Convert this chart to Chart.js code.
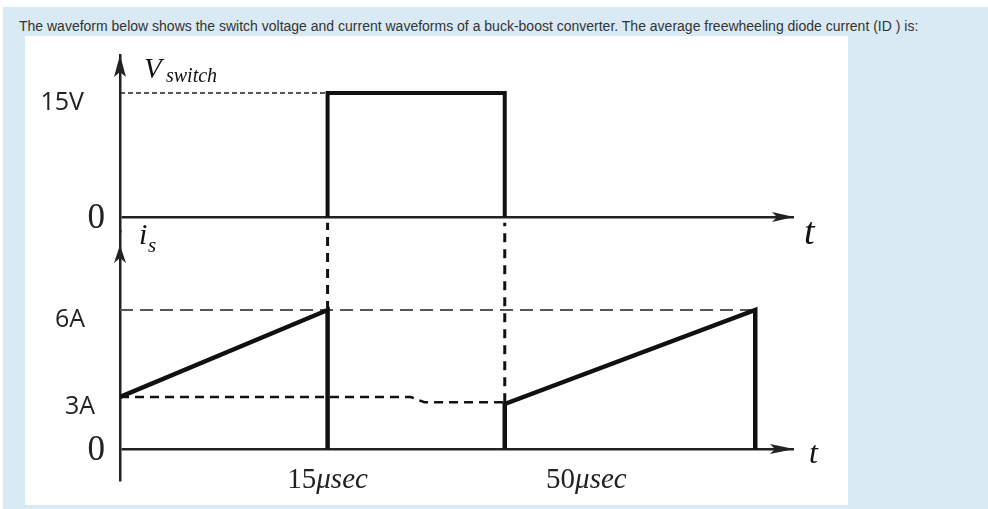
<!DOCTYPE html>
<html>
<head>
<meta charset="utf-8">
<script src="https://cdn.jsdelivr.net/npm/chart.js@4.4.1/dist/chart.umd.min.js"></script>
<style>
  body { margin: 0; background: #fff; width: 988px; height: 509px; overflow: hidden; position: relative; }
  #bg { position: absolute; left: 3px; top: 7px; width: 985px; height: 502px; background: #d9eaf4; }
  #title { position: absolute; left: 19px; top: 18px; font: 14px "Liberation Sans", Arial, sans-serif; color: #333; white-space: nowrap; }
  #panel { position: absolute; left: 25px; top: 36px; width: 823px; height: 469px; background: #fff; }
  #chart { position: absolute; left: 0; top: 0; }
</style>
</head>
<body>
<div id="bg"></div>
<div id="title">The waveform below shows the switch voltage and current waveforms of a buck-boost converter. The average freewheeling diode current (ID ) is:</div>
<div id="panel"></div>
<canvas id="chart" width="988" height="509"></canvas>
<script>
// Switch voltage waveform (V) against time (us)
const tV = [0, 15, 15, 27.8, 27.8, 48.7];
const vSwitch = [0, 0, 15, 15, 0, 0];

// Switch current waveform (A) against time (us)
const tI = [0, 15, 15, 27.8, 27.8, 45.9, 45.9];
const iSwitch = [3, 6, 0, 0, 2.6, 6, 0];

// Tick labels
const vTickValues = [0, 15];
const vTickLabels = ['0', '15V'];
const iTickValues = [0, 3, 6];
const iTickLabels = ['0', '3A', '6A'];
const tTickValues = [15, 33.7];
const tTickLabels = ['15μsec', '50μsec'];

// The hand drawn current axis is not to scale: map values through knots
class SketchScale extends Chart.LinearScale {
  static id = 'sketch';
  toDecimal(v) {
    const k = this.options.knots;
    let i = 1;
    while (i < k.length - 1 && v > k[i][0]) i++;
    const [v0, d0] = k[i - 1];
    const [v1, d1] = k[i];
    return d0 + (v - v0) * (d1 - d0) / (v1 - v0);
  }
  getPixelForValue(value) {
    if (value === null || isNaN(value)) return NaN;
    return this.getPixelForDecimal(this.toDecimal(value));
  }
  getValueForPixel(pixel) {
    const d = this.getDecimalForPixel(pixel);
    const k = this.options.knots;
    let i = 1;
    while (i < k.length - 1 && d > k[i][1]) i++;
    const [v0, d0] = k[i - 1];
    const [v1, d1] = k[i];
    return v0 + (d - d0) * (v1 - v0) / (d1 - d0);
  }
}
Chart.register(SketchScale);

const pts = (xs, ys) => xs.map((x, i) => ({ x: x, y: ys[i] }));

// parts of a waveform lying on the zero axis are left to the thinner axis line
const onAxis = c => (c.p0.parsed.y === 0 && c.p1.parsed.y === 0 ? 'rgba(0,0,0,0)' : undefined);

function arrowUp(ctx, x, tip, len, half) {
  ctx.beginPath();
  ctx.moveTo(x, tip);
  ctx.lineTo(x + half, tip + len);
  ctx.lineTo(x, tip + len - 5);
  ctx.lineTo(x - half, tip + len);
  ctx.closePath();
  ctx.fill();
}

function arrowRight(ctx, tip, y, len, half) {
  ctx.beginPath();
  ctx.moveTo(tip, y);
  ctx.lineTo(tip - len, y - half);
  ctx.lineTo(tip - len + 5, y);
  ctx.lineTo(tip - len, y + half);
  ctx.closePath();
  ctx.fill();
}

// Axis arrows and all the labels of the sketch
const sketchLabels = {
  id: 'sketchLabels',
  afterDraw(chart, args, opts) {
    const { ctx, chartArea, scales } = chart;
    const left = chartArea.left;
    const right = chartArea.right;
    const yV = scales.yV, yI = scales.yI, x = scales.x;
    ctx.save();
    ctx.fillStyle = '#222';
    arrowUp(ctx, left, yV.top, 22, 6);
    arrowUp(ctx, left, yI.getPixelForValue(opts.iArrow), 18, 6);
    arrowRight(ctx, right, yV.getPixelForValue(0), 22, 5);
    arrowRight(ctx, right, yI.getPixelForValue(0), 24, 5);

    // y tick labels
    ctx.textAlign = 'right';
    ctx.textBaseline = 'middle';
    const yLabels = (scale, values, labels) => {
      values.forEach((v, i) => {
        const y = scale.getPixelForValue(v);
        const lab = labels[i];
        if (lab === '0') {
          ctx.font = '35px "Liberation Serif"';
          ctx.fillText(lab, left - 15, y + 2);
        } else {
          ctx.font = '25px "Open Sans"';
          ctx.fillText(lab, left - opts.shift[lab], y + 10);
        }
      });
    };
    yLabels(yV, vTickValues, vTickLabels);
    yLabels(yI, iTickValues, iTickLabels);

    // time labels: upright number, italic unit
    ctx.textAlign = 'left';
    ctx.textBaseline = 'alphabetic';
    tTickValues.forEach((v, i) => {
      const m = tTickLabels[i].match(/^([\d.]+)(.*)$/);
      ctx.font = '29px "Liberation Serif"';
      const w1 = ctx.measureText(m[1]).width;
      ctx.font = 'italic 29px "Liberation Serif"';
      const w2 = ctx.measureText(m[2]).width;
      const x0 = x.getPixelForValue(v) - (w1 + w2) / 2;
      ctx.font = '29px "Liberation Serif"';
      ctx.fillText(m[1], x0, 488);
      ctx.font = 'italic 29px "Liberation Serif"';
      ctx.fillText(m[2], x0 + w1, 488);
    });

    // axis names
    ctx.fillStyle = '#111';
    ctx.font = 'italic 29px "Liberation Serif"';
    ctx.fillText('V', left + 24, yV.top + 23);
    ctx.font = 'italic 20px "Liberation Serif"';
    ctx.fillText('switch', left + 46, yV.top + 27);
    ctx.font = 'italic 30px "Liberation Serif"';
    ctx.fillText('i', left + 19, yV.getPixelForValue(0) + 27);
    ctx.font = 'italic 21px "Liberation Serif"';
    ctx.fillText('s', left + 28, yV.getPixelForValue(0) + 35);
    ctx.font = 'italic 38px "Liberation Serif"';
    ctx.fillText('t', right + 10, yV.getPixelForValue(0) + 27);
    ctx.font = 'italic 32px "Liberation Serif"';
    ctx.fillText('t', right + 15, yI.getPixelForValue(0) + 14);
    ctx.restore();
  }
};

new Chart(document.getElementById('chart'), {
  type: 'line',
  data: {
    datasets: [
      {
        label: 'V switch',
        data: pts(tV, vSwitch),
        yAxisID: 'yV',
        borderColor: '#111',
        borderWidth: 4,
        segment: { borderColor: onAxis }
      },
      {
        label: 'i s',
        data: pts(tI, iSwitch),
        yAxisID: 'yI',
        borderColor: '#111',
        borderWidth: 4.5,
        segment: { borderColor: onAxis }
      },
      {
        label: '15V level',
        data: [{ x: 0, y: vTickValues[1] }, { x: tV[2], y: vTickValues[1] }],
        yAxisID: 'yV',
        borderColor: '#222',
        borderWidth: 1.5,
        borderDash: [5, 3]
      },
      {
        label: '6A level',
        data: [{ x: 0, y: iTickValues[2] }, { x: tI[5], y: iTickValues[2] }],
        yAxisID: 'yI',
        borderColor: '#555',
        borderWidth: 2.2,
        borderDash: [13, 7]
      },
      {
        label: '3A level',
        data: [{ x: 0, y: iTickValues[1] }, { x: 21, y: iTickValues[1] }, { x: 22, y: iSwitch[4] + 0.1 }, { x: tI[4], y: iSwitch[4] + 0.1 }],
        yAxisID: 'yI',
        borderColor: '#111',
        borderWidth: 2.5,
        borderDash: [9, 6]
      },
      {
        label: 'switch on',
        data: [{ x: tI[1], y: iSwitch[1] }, { x: tI[1], y: 9 }],
        yAxisID: 'yI',
        clip: false,
        borderColor: '#111',
        borderWidth: 3,
        borderDash: [9, 7]
      },
      {
        label: 'switch off',
        data: [{ x: tI[4], y: iSwitch[4] + 0.1 }, { x: tI[4], y: 9 }],
        yAxisID: 'yI',
        clip: false,
        borderColor: '#111',
        borderWidth: 3,
        borderDash: [9, 7]
      }
    ]
  },
  options: {
    responsive: false,
    animation: false,
    elements: {
      point: { radius: 0 },
      line: { tension: 0, borderJoinStyle: 'miter', borderCapStyle: 'butt' }
    },
    layout: { padding: { top: 55, right: 194, bottom: 29, left: 0 } },
    plugins: {
      legend: { display: false },
      tooltip: { enabled: false },
      sketchLabels: { iArrow: 8.24, shift: { '15V': 36, '6A': 35, '3A': 25 } }
    },
    scales: {
      x: { type: 'linear', min: 0, max: 48.7, display: false },
      // stacked left axes are placed bottom first, so the current axis comes first
      yI: {
        type: 'sketch',
        position: 'left',
        stack: 'wave',
        stackWeight: 249,
        min: -1.79,
        max: 8.72,
        knots: [[-1.79, 0], [0, 0.1245], [3, 0.3333], [6, 0.6827], [8.72, 1]],
        afterFit: s => { s.width = 120; },
        afterBuildTicks: s => { s.ticks = iTickValues.map(v => ({ value: v })); },
        ticks: { display: false },
        grid: {
          drawTicks: false,
          lineWidth: 2.5,
          color: c => (c.tick && c.tick.value === 0 ? '#222' : 'rgba(0,0,0,0)')
        },
        border: { display: true, color: '#222', width: 2.5 }
      },
      yV: {
        type: 'linear',
        position: 'left',
        stack: 'wave',
        stackWeight: 176,
        min: -1.69,
        max: 19.6,
        afterFit: s => { s.width = 120; },
        afterBuildTicks: s => { s.ticks = vTickValues.map(v => ({ value: v })); },
        ticks: { display: false },
        grid: {
          drawTicks: false,
          lineWidth: 2.5,
          color: c => (c.tick && c.tick.value === 0 ? '#222' : 'rgba(0,0,0,0)')
        },
        border: { display: true, color: '#222', width: 2.5 }
      }
    }
  },
  plugins: [sketchLabels]
});
</script>
</body>
</html>
